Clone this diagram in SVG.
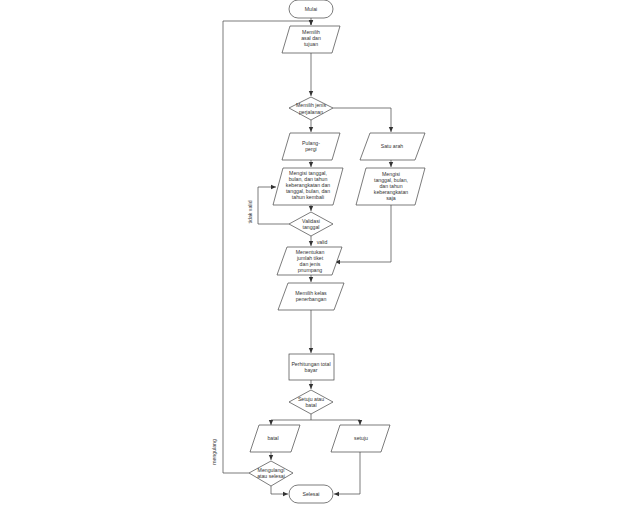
<svg xmlns="http://www.w3.org/2000/svg" width="640" height="505" viewBox="0 0 640 505">
<style>
.s{fill:#fff;stroke:#444;stroke-width:0.7}
.c{fill:none;stroke:#444;stroke-width:0.7;marker-end:url(#a)}
.l{fill:none;stroke:#444;stroke-width:0.7}
text{font-family:"Liberation Sans",Arial,sans-serif;font-size:5.2px;fill:#333;text-anchor:middle}
</style>
<defs><marker id="a" markerWidth="6" markerHeight="6" refX="5" refY="3" orient="auto" markerUnits="userSpaceOnUse"><path d="M0,0.8 L5,3 L0,5.2 z" fill="#333"/></marker></defs>
<rect width="640" height="505" fill="#fff"/>
<g id="connectors">
<path class="c" d="M311,18 V25"/>
<path class="c" d="M311,53 V96"/>
<path class="c" d="M311,120 V132"/>
<path class="c" d="M333,108 H391 V132"/>
<path class="c" d="M311,160 V167"/>
<path class="c" d="M391,160 V167"/>
<path class="c" d="M311,205 V211"/>
<path class="c" d="M289,224 H258 V187 H276"/>
<path class="c" d="M311,236 V246"/>
<path class="c" d="M391,205 V262 H335"/>
<path class="c" d="M311,275 V282"/>
<path class="c" d="M311,310 V353"/>
<path class="c" d="M311,380 V389"/>
<path class="l" d="M311,414 V420"/>
<path class="c" d="M271,420 H360 V425"/>
<path class="c" d="M271,420 V425"/>
<path class="c" d="M271,452 V460"/>
<path class="c" d="M249,473 H223 V21 H311 V25"/>
<path class="c" d="M271,486 V494 H288"/>
<path class="c" d="M360,452 V494 H334"/>
<text x="322" y="244">valid</text>
<text transform="translate(252,212) rotate(-90)">tidak valid</text>
<text transform="translate(216,452) rotate(-90)">mengulang</text>
</g>
<g id="mulai"><rect class="s" x="289" y="0" width="44" height="18" rx="9"/><text x="311" y="11">Mulai</text></g>
<g id="asal"><path class="s" d="M290,26 H340 L332,53 H282 z"/><text x="311" y="34">Memilih</text><text x="311" y="40">asal dan</text><text x="311" y="46">tujuan</text></g>
<g id="jenis"><path class="s" d="M311,97 L333,108 L311,120 L289,108 z"/><text x="311" y="107">Memilih jenis</text><text x="311" y="114">perjalanan</text></g>
<g id="pp"><path class="s" d="M290,133 H340 L332,160 H282 z"/><text x="311" y="145">Pulang-</text><text x="311" y="151">pergi</text></g>
<g id="sa"><path class="s" d="M370,133 H425 L415,160 H360 z"/><text x="392" y="148">Satu arah</text></g>
<g id="isi1"><path class="s" d="M283,168 H343 L333,205 H273 z"/><text x="308" y="175">Mengisi tanggal,</text><text x="308" y="181">bulan, dan tahun</text><text x="308" y="187">keberangkatan dan</text><text x="308" y="193">tanggal, bulan, dan</text><text x="308" y="199">tahun kembali</text></g>
<g id="isi2"><path class="s" d="M366,168 H425 L415,205 H356 z"/><text x="391" y="176">Mengisi</text><text x="391" y="182">tanggal, bulan,</text><text x="391" y="188">dan tahun</text><text x="391" y="194">keberangkatan</text><text x="391" y="200">saja</text></g>
<g id="validasi"><path class="s" d="M311,212 L333,224 L311,236 L289,224 z"/><text x="311" y="223">Validasi</text><text x="311" y="229">tanggal</text></g>
<g id="tiket"><path class="s" d="M287,247 H342 L332,275 H277 z"/><text x="310" y="254">Menentukan</text><text x="310" y="260">jumlah tiket</text><text x="310" y="266">dan jenis</text><text x="310" y="272">pnumpang</text></g>
<g id="kelas"><path class="s" d="M288,283 H344 L334,310 H278 z"/><text x="311" y="295">Memilih kelas</text><text x="311" y="301">penerbangan</text></g>
<g id="hitung"><rect class="s" x="289" y="354" width="45" height="26"/><text x="311" y="366">Perhitungan total</text><text x="311" y="372">bayar</text></g>
<g id="setujubatal"><path class="s" d="M311,390 L333,402 L311,414 L289,402 z"/><text x="311" y="401">Setuju atau</text><text x="311" y="407">batal</text></g>
<g id="batal"><path class="s" d="M259,425 H300 L291,452 H250 z"/><text x="273" y="440">batal</text></g>
<g id="setuju"><path class="s" d="M340,425 H390 L381,452 H331 z"/><text x="361" y="440">setuju</text></g>
<g id="ulang"><path class="s" d="M271,461 L293,473 L271,486 L249,473 z"/><text x="271" y="472">Mengulangi</text><text x="271" y="478">atau selesai</text></g>
<g id="selesai"><rect class="s" x="289" y="485" width="44" height="18" rx="9"/><text x="311" y="496">Selesai</text></g>
</svg>
